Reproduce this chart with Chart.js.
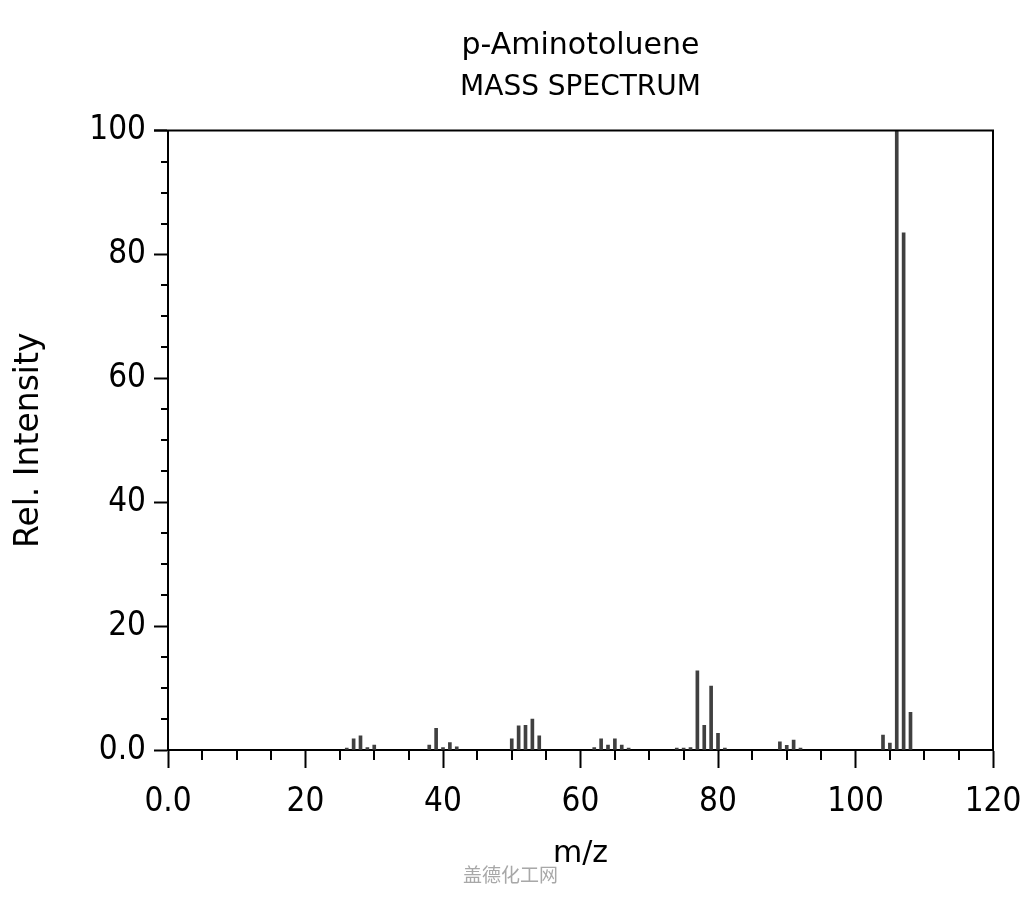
<!DOCTYPE html>
<html>
<head>
<meta charset="utf-8">
<script src="https://cdn.jsdelivr.net/npm/chart.js@4.4.1/dist/chart.umd.min.js"></script>
<style>
  html, body { margin: 0; padding: 0; background: #ffffff; }
  #wrap { position: relative; width: 1024px; height: 900px; }
  #wm { position: absolute; left: 463px; top: 862px; font: 19px "Noto Sans CJK SC", sans-serif; line-height: 24px; color: #a8a8a8; }
</style>
</head>
<body>
<div id="wrap">
  <canvas id="c" width="1024" height="900"></canvas>
  <div id="wm">盖德化工网</div>
</div>
<script>
const titleText = 'p-Aminotoluene';
const subtitleText = 'MASS SPECTRUM';
const xTitle = 'm/z';
const yTitle = 'Rel. Intensity';
const mz = [26, 27, 28, 29, 30, 38, 39, 40, 41, 42, 50, 51, 52, 53, 54, 62, 63, 64, 65, 66, 67, 74, 75, 76, 77, 78, 79, 80, 81, 89, 90, 91, 92, 104, 105, 106, 107, 108];
const intensity = [0.3, 1.8, 2.3, 0.4, 0.8, 0.8, 3.5, 0.4, 1.2, 0.5, 1.8, 3.9, 4.0, 5.0, 2.3, 0.4, 1.8, 0.8, 1.8, 0.8, 0.3, 0.3, 0.3, 0.4, 12.8, 4.0, 10.3, 2.7, 0.3, 1.3, 0.75, 1.6, 0.3, 2.4, 1.1, 100, 83.5, 6.1];
const xRange = [0, 120];
const yRange = [0, 100];
const xMajor = 20, yMajor = 20, minorStep = 5;

const FONT = "'DejaVu Sans Condensed', 'DejaVu Sans', sans-serif";
const TFONT = "'DejaVu Sans', sans-serif";

const frame = {
  id: 'frame',
  afterDraw(chart) {
    const ctx = chart.ctx, a = chart.chartArea;
    const xs = chart.scales.x, ys = chart.scales.y;
    ctx.save();
    ctx.strokeStyle = '#000';
    ctx.lineWidth = 2;
    ctx.beginPath();
    ctx.moveTo(a.left - 14, a.top);
    ctx.lineTo(a.right, a.top);
    ctx.lineTo(a.right, a.bottom);
    ctx.stroke();
    // minor ticks
    ctx.beginPath();
    for (let v = xRange[0]; v <= xRange[1]; v += minorStep) {
      if (v % xMajor === 0) continue;
      const px = Math.round(xs.getPixelForValue(v));
      ctx.moveTo(px, a.bottom);
      ctx.lineTo(px, a.bottom + 10);
    }
    for (let v = yRange[0]; v <= yRange[1]; v += minorStep) {
      if (v % yMajor === 0) continue;
      const py = Math.round(ys.getPixelForValue(v));
      ctx.moveTo(a.left, py);
      ctx.lineTo(a.left - 7, py);
    }
    ctx.stroke();
    ctx.restore();
  }
};

new Chart(document.getElementById('c'), {
  type: 'bar',
  data: {
    datasets: [{
      data: mz.map((m, i) => ({ x: m, y: intensity[i] })),
      backgroundColor: '#404040',
      borderWidth: 0,
      barThickness: 3
    }]
  },
  options: {
    responsive: false,
    devicePixelRatio: 1,
    animation: false,
    layout: { padding: { left: 10, right: 31, top: 0, bottom: 0 } },
    plugins: {
      legend: { display: false },
      tooltip: { enabled: false },
      title: {
        display: true,
        fullSize: false,
        text: titleText,
        color: '#000',
        font: { family: TFONT, size: 30, weight: 'normal', lineHeight: 1.2 },
        padding: { top: 28, bottom: 0 }
      },
      subtitle: {
        display: true,
        fullSize: false,
        text: subtitleText,
        color: '#000',
        font: { family: TFONT, size: 28, weight: 'normal', lineHeight: 1.2 },
        padding: { top: 7, bottom: 26 }
      }
    },
    scales: {
      x: {
        type: 'linear',
        min: xRange[0], max: xRange[1],
        offset: false,
        border: { display: true, color: '#000', width: 2 },
        grid: { offset: false, drawOnChartArea: false, drawTicks: true, tickLength: 18, tickColor: '#000', tickWidth: 2 },
        ticks: {
          stepSize: xMajor,
          color: '#000',
          padding: 15,
          maxRotation: 0,
          font: { family: FONT, size: 33 },
          callback: v => v === 0 ? '0.0' : String(v)
        },
        title: { display: true, text: xTitle, color: '#000', font: { family: TFONT, size: 30 }, padding: { top: 0, bottom: 28 } },
        afterFit(s) { s.height = 150; s.paddingLeft = 0; s.paddingRight = 0; }
      },
      y: {
        min: yRange[0], max: yRange[1],
        border: { display: true, color: '#000', width: 2 },
        grid: { drawOnChartArea: false, drawTicks: true, tickLength: 14, tickColor: '#000', tickWidth: 2 },
        ticks: {
          stepSize: yMajor,
          color: '#000',
          padding: 8,
          font: { family: FONT, size: 33 },
          callback: v => v === 0 ? '0.0' : String(v)
        },
        title: { display: true, text: yTitle, color: '#000', font: { family: TFONT, size: 33 }, padding: { top: 0, bottom: 0 } },
        afterFit(s) { s.width = 158; s.paddingTop = 0; s.paddingBottom = 0; }
      }
    }
  },
  plugins: [frame]
});
</script>
</body>
</html>
